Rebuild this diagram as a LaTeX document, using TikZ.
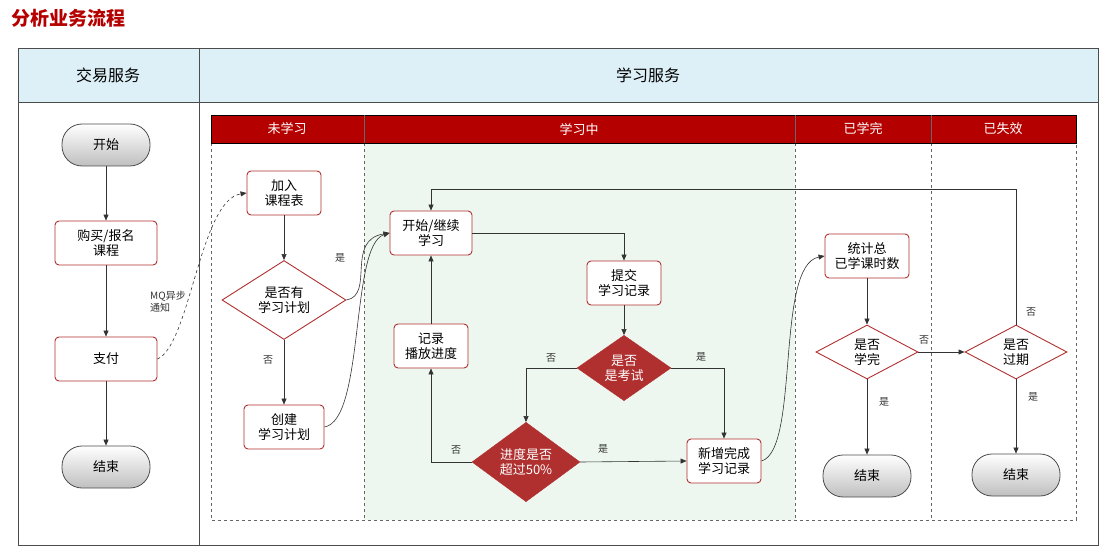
\documentclass[tikz,border=0pt]{standalone}
\usepackage{fontspec}
\setmainfont{Noto Sans CJK SC}
\usetikzlibrary{shapes.geometric,arrows.meta,shadings}
\definecolor{dred}{HTML}{B50000}
\definecolor{bred}{HTML}{B03030}
\definecolor{hblue}{HTML}{DDF0F8}
\definecolor{lgreen}{HTML}{EDF7EF}
\begin{document}
\begin{tikzpicture}[x=1pt,y=-1pt,
  box/.style={draw=bred,line width=0.9pt,rounded corners=4pt,fill=white,minimum width=#1,minimum height=44,align=center,font=\fontsize{13}{15}\selectfont,inner sep=1pt},
  box/.default=76,
  term/.style={draw=black!70,line width=0.8pt,rounded corners=20pt,top color=white,bottom color=black!25,minimum width=88,minimum height=42,font=\fontsize{13}{15}\selectfont},
  dia/.style 2 args={diamond,draw=bred,line width=0.9pt,fill=white,inner sep=0pt,minimum width=#1,minimum height=#2,align=center,font=\fontsize{13}{15}\selectfont},
  rdia/.style 2 args={diamond,draw=bred,fill=bred,text=white,inner sep=0pt,minimum width=#1,minimum height=#2,align=center,font=\fontsize{13}{15}\selectfont},
  arr/.style={draw=black!80,line width=0.6pt,-{Triangle[length=6pt,width=5pt]}},
  lbl/.style={font=\fontsize{10}{12}\selectfont,text=black!80},
  lh/.style={text=white,font=\fontsize{13}{15}\selectfont}]
\useasboundingbox (0,0) rectangle (1102,553);
\node[anchor=west,text=dred,font=\bfseries\fontsize{19}{22}\selectfont] (title) at (8,18) {分析业务流程};
% outer frame
\fill[hblue] (18,48) rectangle (1098,102);
\draw[black!70,line width=0.8pt] (18,48) rectangle (1098,545);
\draw[black!70,line width=0.8pt] (18,102) -- (1098,102);
\draw[black!70,line width=0.8pt] (199,48) -- (199,545);
\node[font=\fontsize{16}{18}\selectfont] (h1) at (108,75) {交易服务};
\node[font=\fontsize{16}{18}\selectfont] (h2) at (648,75) {学习服务};
% lanes
\fill[lgreen] (364,143) rectangle (795,520);
\draw[black!60,dashed,line width=0.5pt] (211,143) rectangle (1076,520);
\draw[black!60,dashed,line width=0.5pt] (364,143) -- (364,520) (795,143) -- (795,520) (931,143) -- (931,520);
\fill[dred] (211,115) rectangle (1076,143);
\draw[black,line width=0.6pt] (211,115) rectangle (1076,143);
\draw[black!60,line width=0.5pt] (364,115) -- (364,143) (795,115) -- (795,143) (931,115) -- (931,143);
\node[lh] (l1) at (287,129) {未学习};
\node[lh] (l2) at (579,129) {学习中};
\node[lh] (l3) at (863,129) {已学完};
\node[lh] (l4) at (1003,129) {已失效};
% nodes
\node[term] (start) at (106,145) {开始};
\node[box=102] (buy) at (106,243) {购买/报名\\课程};
\node[box=102] (pay) at (106,359) {支付};
\node[term] (end1) at (106,467) {结束};
\node[box=74] (join) at (284,193) {加入\\课程表};
\node[dia={124}{64}] (hasplan) at (284,300) {是否有\\学习计划};
\node[box=80] (create) at (284,427) {创建\\学习计划};
\node[box=82] (learn) at (431,233) {开始/继续\\学习};
\node[box=74] (rec) at (431,346) {记录\\播放进度};
\node[box=74] (submit) at (624,283) {提交\\学习记录};
\node[rdia={94}{58}] (exam) at (624,368) {是否\\是考试};
\node[rdia={108}{62}] (prog) at (526,462) {进度是否\\超过50\%};
\node[box=74] (add) at (724,461) {新增完成\\学习记录};
\node[box=84] (stat) at (867,256) {统计总\\已学课时数};
\node[dia={102}{54}] (done) at (867,352) {是否\\学完};
\node[term] (end2) at (867,476) {结束};
\node[dia={102}{54}] (exp) at (1016,352) {是否\\过期};
\node[term] (end3) at (1016,475) {结束};
% edges
\draw[arr] (start) -- (buy);
\draw[arr] (buy) -- (pay);
\draw[arr] (pay) -- (end1);
\draw[arr,dashed] (pay.east) .. controls (190,345) and (200,200) .. (join.west);
\draw[arr] (join) -- (hasplan);
\draw[arr] (hasplan) -- (create);
\draw[arr] (hasplan.east) .. controls (375,295) and (345,240) .. (learn.west);
\draw[arr] (create.east) .. controls (365,420) and (350,245) .. (learn.west);
\draw[arr] (learn.east) -| (submit.north);
\draw[arr] (submit) -- (exam);
\draw[arr] (exam.west) -| (prog.north);
\draw[arr] (exam.east) -| (add.north);
\draw[arr] (prog.east) -- (add.west);
\draw[arr] (prog.west) -| (rec.south);
\draw[arr] (rec) -- (learn);
\draw[arr] (add.east) .. controls (800,450) and (775,265) .. (stat.west);
\draw[arr] (stat) -- (done);
\draw[arr] (done) -- (end2);
\draw[arr] (done) -- (exp);
\draw[arr] (exp) -- (end3);
\coordinate (c1) at (1016,189);
\coordinate (c2) at (431,189);
\draw[arr] (exp.north) -- (c1) -- (c2) -- (learn.north);
% labels
\node[lbl] (t1) at (340,258) {是};
\node[lbl] (t2) at (268,360) {否};
\node[lbl,align=left] (t3) at (168,302) {MQ异步\\通知};
\node[lbl] (t4) at (551,358) {否};
\node[lbl] (t5) at (701,357) {是};
\node[lbl] (t6) at (456,450) {否};
\node[lbl] (t7) at (603,449) {是};
\node[lbl] (t8) at (924,340) {否};
\node[lbl] (t9) at (884,402) {是};
\node[lbl] (t10) at (1031,312) {否};
\node[lbl] (t11) at (1033,397) {是};
\end{tikzpicture}
\end{document}
